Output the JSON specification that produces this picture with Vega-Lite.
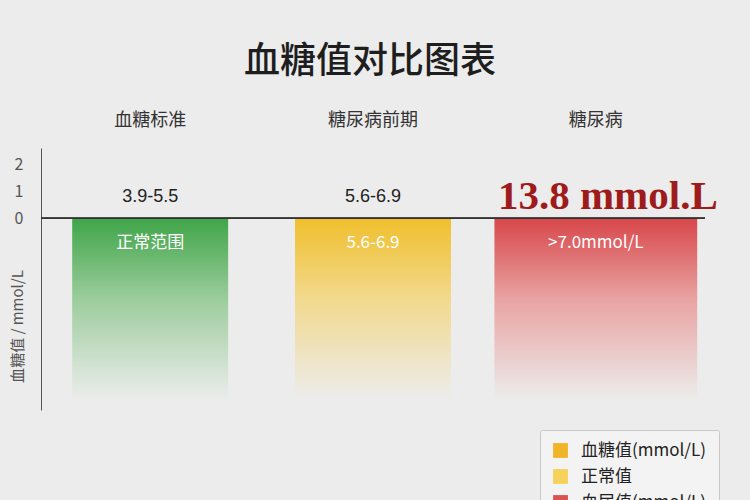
{
  "$schema": "https://vega.github.io/schema/vega-lite/v6.json",
  "width": 664,
  "height": 262,
  "autosize": {"type": "none"},
  "padding": {"left": 41, "top": 148, "right": 45, "bottom": 90},
  "background": "#ececec",
  "config": {"font": "Noto Sans CJK SC", "view": {"stroke": null}},
  "title": {"text": "血糖值对比图表", "fontSize": 36, "fontWeight": 500, "color": "#1e1e1e", "anchor": "middle", "frame": "group", "offset": 31, "font": "Noto Sans CJK SC", "dx": -3},
  "datasets": {
    "groups": [
      {"类别": "正常", "标题": "血糖标准", "范围": "3.9-5.5", "条内": "正常范围", "深度": 6.7},
      {"类别": "糖尿病前期", "标题": "糖尿病前期", "范围": "5.6-6.9", "条内": "5.6-6.9", "深度": 6.7},
      {"类别": "糖尿病", "标题": "糖尿病", "范围": "13.8 mmol.L", "条内": ">7.0mmol/L", "深度": 6.7}
    ],
    "legendRows": [
      {"图例": "血糖值(mmol/L)"},
      {"图例": "正常值"},
      {"图例": "血尿值(mmol/L)"}
    ]
  },
  "layer": [
    {
      "data": {"name": "groups"},
      "transform": [{"filter": "datum['类别'] == '正常'"}],
      "mark": {"type": "bar", "color": {"gradient": "linear", "x1": 0, "y1": 0, "x2": 0, "y2": 1, "stops": [{"offset": 0, "color": "#3fa548"}, {"offset": 0.45, "color": "#9ccd9d"}, {"offset": 1, "color": "#ececec"}]}},
      "encoding": {
        "x": {"field": "类别", "type": "nominal", "sort": ["正常", "糖尿病前期", "糖尿病"], "scale": {"domain": ["正常", "糖尿病前期", "糖尿病"], "paddingInner": 0.3, "paddingOuter": 0.14}, "axis": null},
        "y": {"field": "深度", "type": "quantitative", "scale": {"domain": [-2.6, 7.1], "reverse": true, "nice": false, "zero": false},
          "axis": {"values": [-2, -1, 0], "labelExpr": "abs(datum.value)", "title": "血糖值 / mmol/L", "domainColor": "#555", "domainWidth": 1, "ticks": false, "grid": false, "labelFontSize": 16, "labelColor": "#555", "labelPadding": 18, "titleFontSize": 15, "titleColor": "#555", "titleFontWeight": "normal", "titleX": -16, "titleY": 178}},
        "y2": {"datum": 0}
      }
    },
    {
      "data": {"name": "groups"},
      "transform": [{"filter": "datum['类别'] == '糖尿病前期'"}],
      "mark": {"type": "bar", "color": {"gradient": "linear", "x1": 0, "y1": 0, "x2": 0, "y2": 1, "stops": [{"offset": 0, "color": "#f0bf2c"}, {"offset": 0.45, "color": "#f2d98e"}, {"offset": 1, "color": "#ececec"}]}},
      "encoding": {
        "x": {"field": "类别", "type": "nominal", "sort": ["正常", "糖尿病前期", "糖尿病"]},
        "y": {"field": "深度", "type": "quantitative"},
        "y2": {"datum": 0}
      }
    },
    {
      "data": {"name": "groups"},
      "transform": [{"filter": "datum['类别'] == '糖尿病'"}],
      "mark": {"type": "bar", "width": {"band": 1.3}, "color": {"gradient": "linear", "x1": 0, "y1": 0, "x2": 0, "y2": 1, "stops": [{"offset": 0, "color": "#d8474a"}, {"offset": 0.45, "color": "#e8a3a2"}, {"offset": 1, "color": "#ececec"}]}},
      "encoding": {
        "x": {"field": "类别", "type": "nominal", "sort": ["正常", "糖尿病前期", "糖尿病"]},
        "y": {"field": "深度", "type": "quantitative"},
        "y2": {"datum": 0}
      }
    },
    {
      "data": {"name": "groups"},
      "mark": {"type": "rule", "color": "#333", "strokeWidth": 1.5},
      "encoding": {"y": {"datum": 0}}
    },
    {
      "data": {"name": "groups"},
      "mark": {"type": "text", "fontSize": 18, "color": "#333", "baseline": "middle"},
      "encoding": {
        "x": {"field": "类别", "type": "nominal", "sort": ["正常", "糖尿病前期", "糖尿病"]},
        "y": {"datum": -3.6},
        "text": {"field": "标题"}
      }
    },
    {
      "data": {"name": "groups"},
      "transform": [{"filter": "datum['类别'] != '糖尿病'"}],
      "mark": {"type": "text", "fontSize": 18, "color": "#222", "baseline": "middle", "font": "Liberation Sans"},
      "encoding": {
        "x": {"field": "类别", "type": "nominal", "sort": ["正常", "糖尿病前期", "糖尿病"]},
        "y": {"datum": -0.8},
        "text": {"field": "范围"}
      }
    },
    {
      "data": {"name": "groups"},
      "transform": [{"filter": "datum['类别'] == '糖尿病'"}],
      "mark": {"type": "text", "fontSize": 41, "color": "#9e1b1b", "baseline": "middle", "font": "Liberation Serif", "fontWeight": "bold", "dx": 12},
      "encoding": {
        "x": {"field": "类别", "type": "nominal", "sort": ["正常", "糖尿病前期", "糖尿病"]},
        "y": {"datum": -0.8},
        "text": {"field": "范围"}
      }
    },
    {
      "data": {"name": "groups"},
      "mark": {"type": "text", "fontSize": 17, "color": "#ffffff", "baseline": "middle"},
      "encoding": {
        "x": {"field": "类别", "type": "nominal", "sort": ["正常", "糖尿病前期", "糖尿病"]},
        "y": {"datum": 0.9},
        "text": {"field": "条内"}
      }
    },
    {
      "data": {"name": "legendRows"},
      "mark": {"type": "square", "opacity": 0},
      "encoding": {
        "color": {"field": "图例", "type": "nominal", "sort": null,
          "scale": {"domain": ["血糖值(mmol/L)", "正常值", "血尿值(mmol/L)"], "range": ["#f0b429", "#f5d35a", "#d9534f"]},
          "legend": {"orient": "none", "legendX": 499, "legendY": 282, "title": null, "symbolType": "square", "symbolSize": 220, "symbolOpacity": 1, "symbolStrokeWidth": 0, "labelFontSize": 17, "labelColor": "#222", "labelOffset": 12, "padding": 12, "rowPadding": 8, "strokeColor": "#c8c8c8", "fillColor": "#f3f3f3", "cornerRadius": 2}}
      }
    }
  ]
}
